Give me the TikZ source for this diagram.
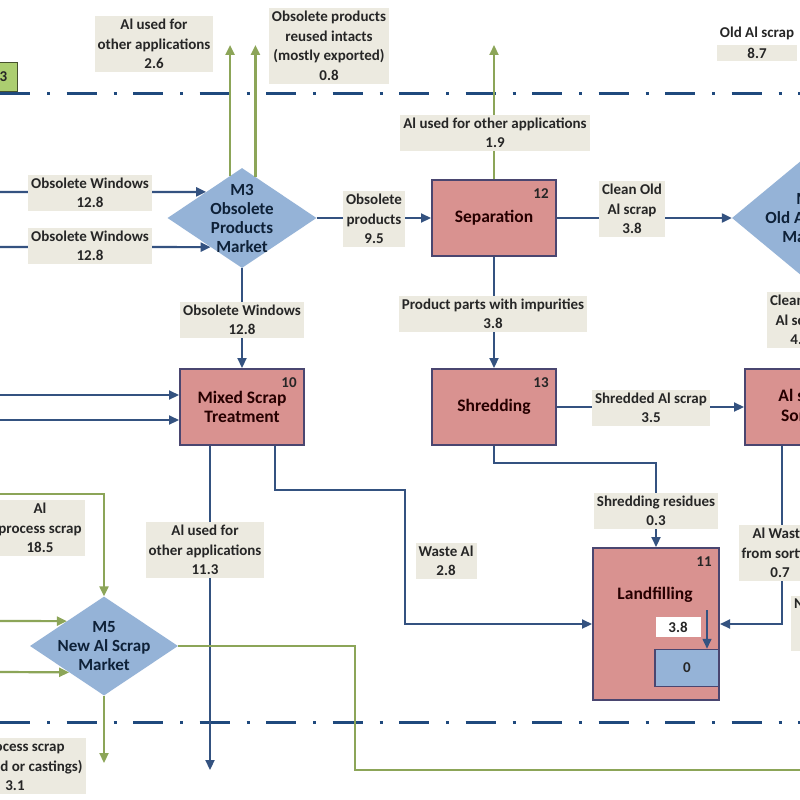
\documentclass[tikz,border=0pt]{standalone}
\usepackage{fontspec}
\setmainfont{Carlito}
\usetikzlibrary{calc, shapes.geometric, arrows.meta}
\definecolor{flow}{RGB}{52,82,128}
\definecolor{navy}{RGB}{31,73,125}
\definecolor{olive}{RGB}{140,165,88}
\definecolor{leaf}{RGB}{172,206,112}
\definecolor{paper}{RGB}{236,234,224}
\definecolor{rose}{RGB}{217,146,144}
\definecolor{sky}{RGB}{149,179,215}
\definecolor{rim}{RGB}{74,70,112}
\tikzset{ pt/.style = { align = center
                      , text = red!15!black
                      , font = \bfseries\fontsize{17.5}{19.5}\selectfont
                      },
          pr/.style = { pt
                      , rectangle
                      , draw = rim
                      , fill = rose
                      , line width = 2pt
                      , minimum width = 124pt
                      , minimum height = 76pt
                      },
          mk/.style = { diamond
                      , fill = sky
                      , minimum width = 149pt
                      , minimum height = 100pt
                      },
          mt/.style = { align = center
                      , text = navy!45!black
                      , font = \bfseries\fontsize{17}{19}\selectfont
                      },
          lb/.style = { fill = paper
                      , inner sep = 3pt
                      , align = center
                      , text = black!85
                      , font = \bfseries\fontsize{15}{19.5}\selectfont
                      },
          nr/.style = { text = black!85
                      , font = \bfseries\fontsize{15}{18}\selectfont
                      },
          bl/.style = { draw = flow
                      , line width = 2.2pt
                      , -{Triangle[length=10pt, width=9pt]}
                      },
          gr/.style = { draw = olive
                      , line width = 2.2pt
                      , -{Triangle[length=10pt, width=9pt]}
                      },
          dd/.style = { draw = navy
                      , line width = 3pt
                      , dash pattern = on 30pt off 17pt on 3pt off 16.5pt
                      }
        }
\begin{document}
\begin{tikzpicture}[x=1pt, y=-1pt]
  \useasboundingbox (0,0) rectangle (800,800);
  \clip (0,0) rectangle (800,800);
  \fill[white] (0,0) rectangle (800,800);
  \draw[dd] (0,93) -- (800,93)  (0,722) -- (800,722);
  % processes and markets
  \node[pr] (sep) at (494,218) {Separation};
  \node[pr] (shr) at (494,407) {Shredding};
  \node[pr] (mix) at (242,407) {Mixed Scrap\\Treatment};
  \node[pr] (srt) at (807,407) {Al scrap\\Sorting};
  \node[pr, minimum width=126pt, minimum height=152pt] (lnd) at (656,624) {};
  \node[pt] (lndt) at (655,595) {Landfilling};
  \foreach \b/\n in {sep/12, shr/13, mix/10, lnd/11}
    \node[nr] (n\n) at ($(\b.north east)+(-16,15)$) {\n};
  \node[lb, fill=white, minimum width=45pt, minimum height=20pt, inner sep=1pt] (rest) at (678,627) {3.8};
  \node[lb, fill=sky, draw=rim, line width=1.5pt, minimum width=64pt, minimum height=37pt] (stock) at (687,668) {0};
  \node[mk] (M3) at (242,218) {};
  \node[mk, minimum width=152pt, minimum height=126pt] (M4) at (808,218) {};
  \node[mk, minimum width=148pt, minimum height=99pt] (M5) at (104,646) {};
  \node[mt] (M3t) at (M3) {M3\\Obsolete\\Products\\Market};
  \node[mt] (M4t) at (M4) {M4\\Old Al Scrap\\Market};
  \node[mt] (M5t) at (M5) {M5\\New Al Scrap\\Market};
  \node[lb, fill=leaf, draw=olive!50!black, line width=1.5pt, anchor=east, align=right,
        text width=40pt, inner xsep=10pt, minimum height=29pt] (f3) at (18,77) {3};
  % free ends
  \coordinate (top) at (0,45);
  \coordinate (bot) at (0,770);
  \coordinate (w1) at (0,192);
  \coordinate (w2) at (0,247);
  \coordinate (w3) at (0,395);
  \coordinate (w4) at (0,420);
  \coordinate (n1) at (0,621);
  \coordinate (n2) at (0,672);
  \coordinate (n3) at (0,494);
  \coordinate (gb) at (0,763);
  \coordinate (gc) at (355,770);
  \coordinate (ge) at (800,770);
  \coordinate (wk) at (405,490);
  \coordinate (sk) at (0,463);
  \coordinate (drop) at (707,610);
  % flows
  \draw[bl] (w1) -- ($(M3.north)!0.48!(M3.west)$);
  \draw[bl] (w2) -- ($(M3.west)!0.58!(M3.south)$);
  \draw[bl] (w3) -- (w3 -| mix.west);
  \draw[bl] (w4) -- (w4 -| mix.west);
  \draw[gr] ($(M3.north)!0.16!(M3.west)$) coordinate (u1) -- (u1 |- top);
  \draw[gr] ($(M3.north)!0.18!(M3.east)$) coordinate (u2) -- (u2 |- top);
  \draw[gr] (sep.north) -- (sep.north |- top);
  \draw[bl] (M3.east) -- (sep.west);
  \draw[bl] (sep.east) -- (M4.west);
  \draw[bl] (M3.south) -- (mix.north);
  \draw[bl] (sep.south) -- (shr.north);
  \draw[bl] (shr.east) -- (srt.west);
  \draw[bl] ($(mix.south)+(-32,0)$) coordinate (m1) -- (m1 |- bot);
  \draw[bl] ($(mix.south)+(33,0)$) |- (wk) |- (lnd.west);
  \draw[bl] (shr.south) -- (shr.south |- sk) -| (lnd.north);
  \draw[bl] ($(srt.south)+(-25,0)$) |- (lnd.east);
  \draw[bl, line width=1.5pt] (drop) -- (drop |- stock.north);
  \draw[gr] (n1) -- ($(M5.north)!0.5!(M5.west)$);
  \draw[gr] (n2) -- ($(M5.west)!0.53!(M5.south)$);
  \draw[gr] (n3) -| (M5.north);
  \draw[gr] (M5.south) -- (M5.south |- gb);
  \draw[gr, -] (M5.east) -| (gc) -- (ge);
  % flow labels
  \foreach \n/\x/\y/\t in {
      a1/154/44/{Al used for\\other applications\\2.6},
      a2/329/46/{Obsolete products\\reused intacts\\(mostly exported)\\0.8},
      a3/90/193/{Obsolete Windows\\12.8},
      a4/90/246/{Obsolete Windows\\12.8},
      a5/374/219/{Obsolete\\products\\9.5},
      a6/495/133/{Al used for other applications\\1.9},
      a7/632/209/{Clean Old\\Al scrap\\3.8},
      a8/800/320/{Clean Old\\Al scrap\\4.9},
      a9/242/320/{Obsolete Windows\\12.8},
      b1/493/314/{Product parts with impurities\\3.8},
      b2/651/408/{Shredded Al scrap\\3.5},
      b3/656/511/{Shredding residues\\0.3},
      b4/780/553/{Al Waste\\from sorting\\0.7},
      b5/446/561/{Waste Al\\2.8},
      b6/205/550/{Al used for\\other applications\\11.3},
      b7/40/528/{Al\\process scrap\\18.5},
      b8/15/766/{Al process scrap\\(extruded or castings)\\3.1}}
    \node[lb] (\n) at (\x,\y) {\t};
  \node[lb, minimum width=80pt] (old) at (757,53) {8.7};
  \node[nr] (oldt) at (757,33) {Old Al scrap};
  \node[lb, anchor=north west, align=left] (nb) at (791,596) {N\\\phantom{0}\\\phantom{0}};
\end{tikzpicture}
\end{document}
